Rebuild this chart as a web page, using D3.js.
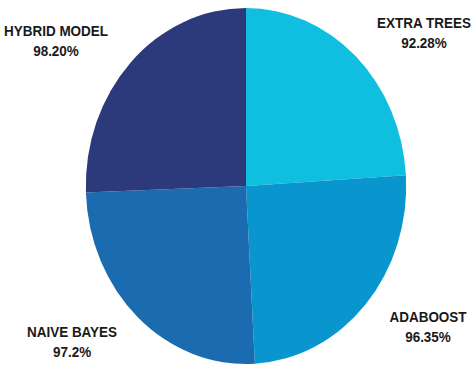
<!DOCTYPE html>
<html>
<head>
<meta charset="utf-8">
<title>Model Accuracy Pie</title>
<style>
  body { margin: 0; padding: 0; background: #fff; }
  svg { display: block; }
  .lbl { font-family: "Liberation Sans", Arial, sans-serif; font-weight: bold; font-size: 15px; fill: #1a1a1a; }
</style>
</head>
<body>
<div id="chart"></div>
<script src="https://d3js.org/d3.v7.min.js"></script>
<script>
// chart data
const models = ["EXTRA TREES", "ADABOOST", "NAIVE BAYES", "HYBRID MODEL"];
const accuracy = [92.28, 96.35, 97.2, 98.20];
const valueLabels = ["92.28%", "96.35%", "97.2%", "98.20%"];
const colors = ["#10bee0", "#0996cf", "#1b6bb0", "#2c3a7b"];

const width = 474, height = 371;
const cx = 246, cy = 186;
const r = 178;          // vertical radius
const squash = 0.9;     // picture is narrower than tall

// label anchor (centre x, first baseline) for each slice
const labelPos = [[424, 28], [428, 322], [72, 337], [56, 36]];

const svg = d3.select("#chart").append("svg")
  .attr("width", width)
  .attr("height", height);

const pie = d3.pie().sort(null).value(d => d);
const arc = d3.arc().innerRadius(0).outerRadius(r);

const g = svg.append("g")
  .attr("transform", `translate(${cx},${cy}) scale(${squash},1)`);

g.selectAll("path")
  .data(pie(accuracy))
  .join("path")
  .attr("d", arc)
  .attr("fill", (d, i) => colors[i]);

// labels
const lbl = svg.append("g")
  .selectAll("g")
  .data(models)
  .join("g")
  .attr("transform", (d, i) => `translate(${labelPos[i][0]},${labelPos[i][1]}) scale(${squash},1)`);

lbl.append("text")
  .attr("class", "lbl")
  .attr("text-anchor", "middle")
  .text(d => d);

lbl.append("text")
  .attr("class", "lbl")
  .attr("text-anchor", "middle")
  .attr("y", 20)
  .text((d, i) => valueLabels[i]);
</script>
</body>
</html>
